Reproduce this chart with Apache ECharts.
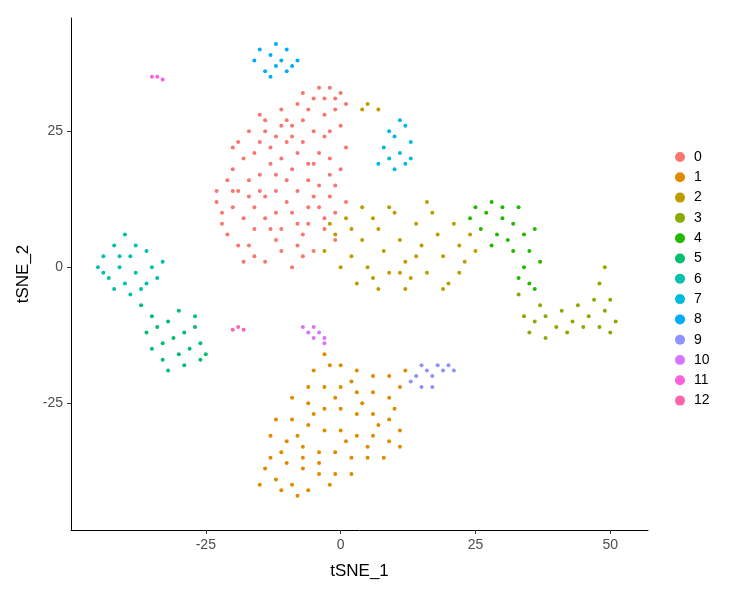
<!DOCTYPE html>
<html><head><meta charset="utf-8">
<script src="https://cdn.jsdelivr.net/npm/echarts@6/dist/echarts.min.js"></script>
<style>html,body{margin:0;padding:0;background:#fff}#main{width:731px;height:595px}</style>
</head><body><div id="main"></div>
<script>
var clusterNames = ['0','1','2','3','4','5','6','7','8','9','10','11','12'];
var clusterColors = ['#F8766D','#E18A00','#BE9C00','#8CAB00','#24B700','#00BE70','#00C1AB','#00BBDA','#00ACFC','#8B93FF','#D575FE','#F962DD','#FF65AC'];
var xTicks = [-25, 0, 25, 50];
var yTicks = [-25, 0, 25];

var c0 = [[-20,22],[-17,25],[-14,27],[-11,29],[-8,30],[-5,31],[-2,33],[0,32],[-3,28],[-7,27],[-12,24],[-16,21],[-20,18],[-23,14],[-22,10],[-19,14],[-15,17],[-11,20],[-7,23],[-3,24],[0,26],[1,22],[-2,20],[-6,19],[-10,16],[-14,13],[-18,9],[-21,6],[-17,4],[-13,7],[-9,10],[-5,13],[-1,15],[1,12],[-3,9],[-7,6],[-11,3],[-14,1],[-9,0],[-5,3],[-1,5],[-18,1],[-20,11],[-15,23],[-9,26],[-4,21],[-12,10],[-8,14],[-16,11],[-13,19],[-10,23],[-6,16],[-2,17],[-4,11],[-8,8],[-12,5],[-16,7],[-19,4],[-22,8],[-21,16],[-18,20],[-14,25],[-10,27],[-6,29],[-3,31],[-1,29],[-2,25],[-5,25],[-8,21],[-12,17],[-15,14],[-17,16],[-19,23],[-13,22],[-9,18],[-6,11],[-3,7],[-6,8],[-10,12],[-14,9],[-16,2],[-11,7],[-7,2],[-4,15],[0,18],[-1,10],[-23,12],[-20,14],[-15,28],[-11,26],[-7,32],[-4,33],[-1,31],[1,30],[-17,13],[-8,4],[-12,14],[-5,19],[-9,24],[-2,13]];
var c1 = [[-3,-16],[-2,-18],[-5,-19],[0,-18],[3,-19],[6,-20],[9,-20],[12,-19],[-6,-22],[-3,-22],[0,-22],[3,-23],[6,-23],[9,-24],[11,-22],[-9,-24],[-6,-25],[-3,-26],[0,-26],[3,-27],[6,-27],[9,-28],[11,-30],[-12,-28],[-9,-28],[-6,-29],[-3,-30],[0,-30],[3,-31],[6,-31],[9,-32],[11,-33],[-13,-31],[-10,-32],[-7,-33],[-4,-34],[-1,-34],[2,-35],[5,-35],[8,-35],[-13,-35],[-10,-36],[-7,-37],[-4,-38],[-1,-38],[2,-38],[-15,-40],[-12,-39],[-9,-40],[-8,-42],[-6,-41],[-14,-37],[-11,-41],[-4,-36],[1,-32],[4,-25],[-1,-24],[7,-29],[-8,-31],[-5,-27],[2,-21],[-11,-34],[-2,-40],[10,-26],[5,-33],[-7,-35]];
var c2 = [[-3,3],[-1,6],[1,9],[2,2],[4,11],[4,5],[5,0],[6,-2],[7,7],[8,3],[9,-1],[10,10],[11,5],[12,1],[13,-2],[14,8],[15,4],[16,-1],[17,10],[18,6],[19,2],[20,-3],[21,8],[22,4],[23,1],[24,6],[25,3],[12,-4],[9,11],[6,9],[0,0],[3,-3],[16,12],[19,-4],[11,-1],[14,2],[7,-4],[22,-1],[-2,8],[2,7],[5,30],[7,29],[4,29]];
var c3 = [[33,-5],[34,-9],[35,-12],[36,-10],[38,-13],[38,-9],[40,-11],[41,-8],[43,-10],[44,-7],[46,-9],[47,-6],[48,-11],[49,-8],[50,-12],[51,-10],[48,-3],[49,0],[50,-6],[37,-7],[42,-12],[45,-11]];
var c4 = [[24,9],[25,11],[26,7],[27,10],[28,12],[29,6],[30,9],[31,5],[32,8],[33,11],[34,6],[35,3],[36,7],[34,0],[35,-3],[33,-2],[36,-4],[37,1],[30,11],[28,4],[32,3]];
var c5 = [[-37,-7],[-35,-9],[-36,-12],[-34,-11],[-33,-14],[-32,-10],[-31,-13],[-30,-16],[-29,-12],[-28,-15],[-27,-11],[-26,-14],[-25,-16],[-27,-9],[-32,-19],[-29,-18],[-35,-15],[-30,-8],[-26,-17],[-33,-17]];
var c6 = [[-45,0],[-44,2],[-43,-2],[-42,4],[-41,0],[-40,-3],[-40,6],[-39,2],[-38,-1],[-37,-4],[-36,3],[-35,0],[-34,-2],[-33,1],[-42,-4],[-38,4],[-36,-3],[-39,-5],[-44,-1],[-41,2]];
var c7 = [[7,19],[8,22],[9,20],[10,24],[11,21],[12,26],[13,23],[11,27],[10,18],[12,19],[9,25],[13,20]];
var c8 = [[-16,38],[-15,40],[-14,36],[-13,39],[-12,41],[-12,37],[-11,38],[-10,40],[-9,37],[-8,38],[-13,35],[-10,36]];
var c9 = [[13,-21],[14,-20],[15,-22],[16,-19],[17,-20],[18,-18],[19,-19],[20,-18],[21,-19],[17,-22],[15,-18]];
var c10 = [[-7,-11],[-6,-12],[-5,-11],[-5,-13],[-4,-12],[-3,-13],[-3,-14]];
var c11 = [[-35,35],[-34,35],[-33,34.5]];
var c12 = [[-20,-11.5],[-19,-11],[-18,-11.5]];
var clusterData = [c0,c1,c2,c3,c4,c5,c6,c7,c8,c9,c10,c11,c12];

var chart = echarts.init(document.getElementById('main'));
var axisCommon = {
  splitLine: {show: false},
  axisLine: {show: true, onZero: false, lineStyle: {color: '#000', width: 1}},
  axisTick: {show: true, length: 4, lineStyle: {color: '#333'}},
  axisLabel: {color: '#4d4d4d', fontSize: 14, fontFamily: 'Liberation Sans'},
  nameTextStyle: {color: '#000', fontSize: 17, fontFamily: 'Liberation Sans'}
};
chart.setOption({
  animation: false,
  grid: {left: 71, right: 83, top: 18, bottom: 65},
  legend: {
    orient: 'vertical', left: 670, top: 145, itemGap: 6.3,
    itemWidth: 10, itemHeight: 10, icon: 'circle',
    data: clusterNames,
    textStyle: {fontSize: 14, color: '#000', fontFamily: 'Liberation Sans', padding: [0, 0, 0, 4]}
  },
  xAxis: Object.assign({}, axisCommon, {
    type: 'value', min: -50, max: 57, name: 'tSNE_1', nameLocation: 'middle', nameGap: 33,
    axisLabel: Object.assign({}, axisCommon.axisLabel, {customValues: xTicks}),
    axisTick: Object.assign({}, axisCommon.axisTick, {customValues: xTicks})
  }),
  yAxis: Object.assign({}, axisCommon, {
    type: 'value', min: -48.3, max: 45.8, name: 'tSNE_2', nameLocation: 'middle', nameGap: 32,
    axisLabel: Object.assign({}, axisCommon.axisLabel, {customValues: yTicks}),
    axisTick: Object.assign({}, axisCommon.axisTick, {customValues: yTicks})
  }),
  series: clusterNames.map(function (n, i) {
    return {name: n, type: 'scatter', data: clusterData[i], symbolSize: 4,
      itemStyle: {color: clusterColors[i], opacity: 1}};
  })
});
</script></body></html>
